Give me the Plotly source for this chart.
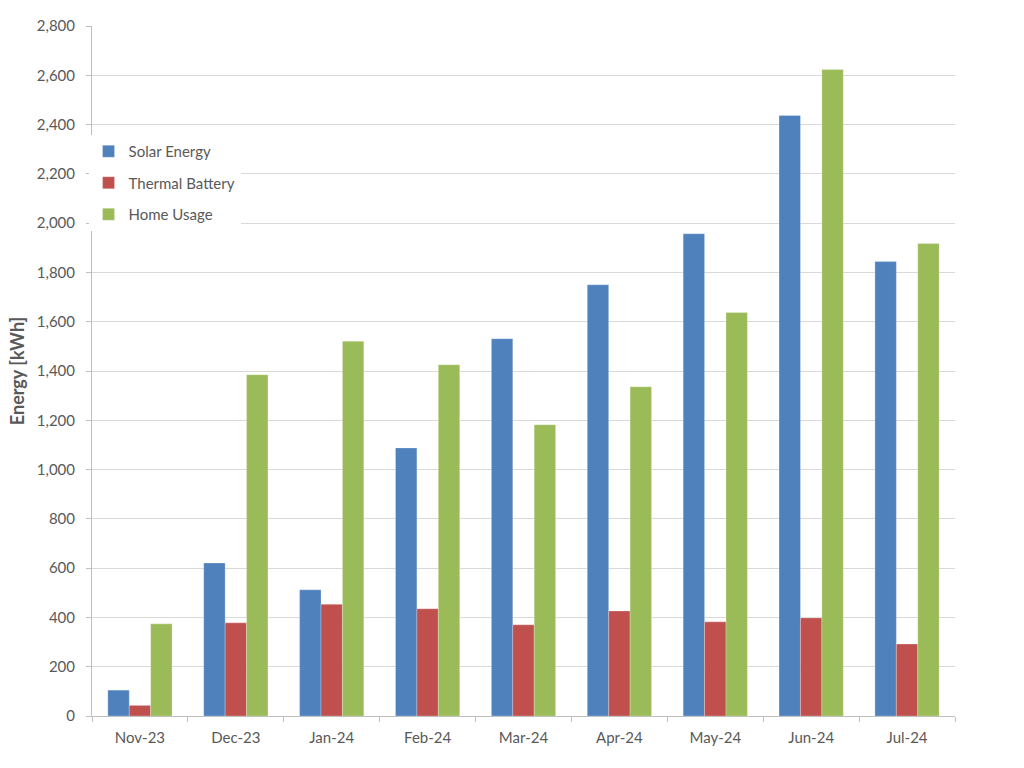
import plotly.graph_objects as go

months = ["Nov-23", "Dec-23", "Jan-24", "Feb-24", "Mar-24", "Apr-24", "May-24", "Jun-24", "Jul-24"]
solar = [105, 621, 512, 1088, 1531, 1750, 1957, 2437, 1844]
thermal = [43, 378, 453, 435, 370, 426, 382, 398, 292]
home = [374, 1385, 1521, 1425, 1182, 1336, 1637, 2623, 1917]

series = [
    ("Solar Energy", solar, "#4f81bd"),
    ("Thermal Battery", thermal, "#c0504d"),
    ("Home Usage", home, "#9bbb59"),
]

fig = go.Figure()
for name, vals, color in series:
    fig.add_trace(go.Bar(
        x=months, y=vals, name=name, legendgroup=name,
        marker=dict(color=color, line=dict(color="rgba(255,255,255,0.5)", width=0.5)),
    ))

font_family = "Lato, 'Open Sans', sans-serif"
fig.update_layout(
    width=1024, height=768,
    margin=dict(l=92, r=69, t=26, b=52),
    paper_bgcolor="white", plot_bgcolor="white",
    barmode="group", bargap=0.33, bargroupgap=0,
    font=dict(family=font_family, size=15, color="#595959"),
    legend=dict(
        x=-0.004, y=0.842, xanchor="left", yanchor="top",
        bgcolor="white", font=dict(size=15, color="#595959"),
        tracegroupgap=9, itemwidth=30,
    ),
    xaxis=dict(
        showline=True, linecolor="#bfbfbf", linewidth=1,
        ticks="outside", tickson="boundaries", ticklen=5, tickcolor="#bfbfbf",
        showgrid=False, tickfont=dict(size=15, color="#595959"),
        ticklabelstandoff=8,
    ),
    yaxis=dict(
        range=[0, 2800], dtick=200, tickformat=",d",
        showline=True, linecolor="#bfbfbf", linewidth=1,
        ticks="outside", ticklen=5, tickcolor="#bfbfbf",
        showgrid=True, gridcolor="#d9d9d9", gridwidth=1,
        zeroline=False,
        tickfont=dict(size=15, color="#595959"),
        ticklabelstandoff=8,
        title=dict(text="<b>Energy [kWh]</b>", font=dict(size=18, color="#595959"), standoff=7),
    ),
)

fig.write_html("out.html")
